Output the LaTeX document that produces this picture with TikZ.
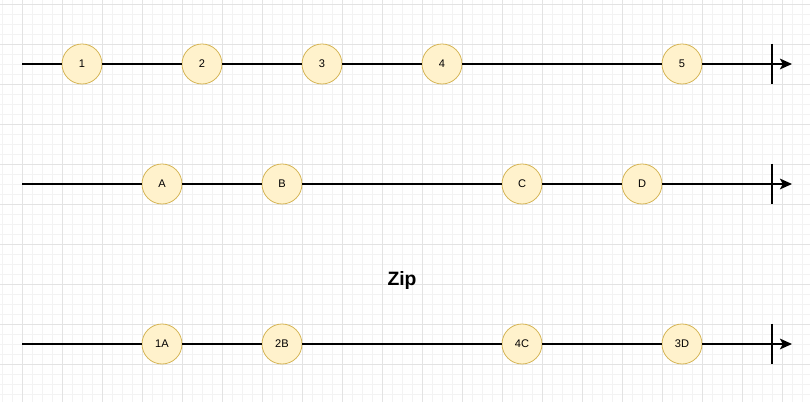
\documentclass[tikz,border=0pt]{standalone}
\usepackage{fontspec}
\setmainfont{Liberation Sans}
\usetikzlibrary{arrows.meta}
\definecolor{evfill}{HTML}{FFF2CC}
\definecolor{evdraw}{HTML}{D6B656}
\definecolor{gridminor}{HTML}{F3F3F3}
\definecolor{gridmajor}{HTML}{E3E3E3}
\tikzset{
  ev/.style={circle, draw=evdraw, fill=evfill, minimum size=40*0.75pt, inner sep=0pt, font=\fontsize{8.3}{9}\selectfont, line width=0.6pt},
  tl/.style={line width=1.2pt, black},
  tlend/.style={line width=1.2pt, black, -{Stealth[length=9pt, width=8pt, inset=2pt]}},
  stopbar/.style={line width=1.4pt, black},
}
\begin{document}
\begin{tikzpicture}[x=0.75pt, y=-0.75pt]
\useasboundingbox (0,0) rectangle (810,402);
\fill[white] (0,0) rectangle (810,402);
% grid
\foreach \gx in {2,12,...,810} \draw[gridminor, line width=0.5pt] (\gx,0) -- (\gx,402);
\foreach \gy in {4,14,...,402} \draw[gridminor, line width=0.5pt] (0,\gy) -- (810,\gy);
\foreach \gx in {22,62,...,810} \draw[gridmajor, line width=0.6pt] (\gx,0) -- (\gx,402);
\foreach \gy in {4,44,...,402} \draw[gridmajor, line width=0.6pt] (0,\gy) -- (810,\gy);

% row 1
\coordinate (s1) at (22,64);
\coordinate (e1) at (792,64);
\node[ev] (n1) at (82,64) {1};
\node[ev] (n2) at (202,64) {2};
\node[ev] (n3) at (322,64) {3};
\node[ev] (n4) at (442,64) {4};
\node[ev] (n5) at (682,64) {5};
\draw[tl] (s1) -- (n1) (n1) -- (n2) (n2) -- (n3) (n3) -- (n4) (n4) -- (n5);
\draw[tlend] (n5) -- (e1);
\coordinate (b1t) at (772,44);
\coordinate (b1b) at (772,84);
\draw[stopbar] (b1t) -- (b1b);

% row 2
\coordinate (s2) at (22,184);
\coordinate (e2) at (792,184);
\node[ev] (nA) at (162,184) {A};
\node[ev] (nB) at (282,184) {B};
\node[ev] (nC) at (522,184) {C};
\node[ev] (nD) at (642,184) {D};
\draw[tl] (s2) -- (nA) (nA) -- (nB) (nB) -- (nC) (nC) -- (nD);
\draw[tlend] (nD) -- (e2);
\coordinate (b2t) at (772,164);
\coordinate (b2b) at (772,204);
\draw[stopbar] (b2t) -- (b2b);

% label
\node[font=\bfseries\fontsize{14.5}{16}\selectfont] (zip) at (402,281) {Zip};

% row 3
\coordinate (s3) at (22,344);
\coordinate (e3) at (792,344);
\node[ev] (z1) at (162,344) {1A};
\node[ev] (z2) at (282,344) {2B};
\node[ev] (z3) at (522,344) {4C};
\node[ev] (z4) at (682,344) {3D};
\draw[tl] (s3) -- (z1) (z1) -- (z2) (z2) -- (z3) (z3) -- (z4);
\draw[tlend] (z4) -- (e3);
\coordinate (b3t) at (772,324);
\coordinate (b3b) at (772,364);
\draw[stopbar] (b3t) -- (b3b);
\end{tikzpicture}
\end{document}
